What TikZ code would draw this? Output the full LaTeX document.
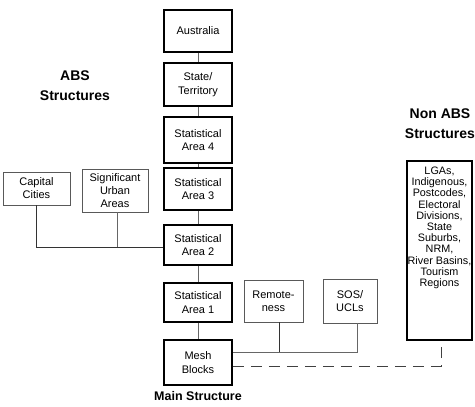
\documentclass[tikz,border=0pt]{standalone}
\usepackage{fontspec}
\setmainfont{Liberation Sans}
\begin{document}
\begin{tikzpicture}[x=1pt,y=-1pt,
  mainbox/.style={draw=black,line width=1.6pt,fill=white,align=center,
    font=\fontsize{11}{13.5}\selectfont,inner sep=0pt,minimum width=68pt},
  sidebox/.style={draw=black!65,line width=0.9pt,fill=white,align=center,
    font=\fontsize{11}{13}\selectfont,inner sep=0pt},
  nonabs/.style={draw=black,line width=1.6pt,fill=white,inner sep=0pt,
    minimum width=65pt,minimum height=179pt},
  nonabstext/.style={align=center,font=\fontsize{10.8}{11.2}\selectfont,inner sep=0pt},
  link/.style={draw=black!60,line width=1pt},
  dlink/.style={draw=black!75,line width=1pt,dash pattern=on 11pt off 7pt},
  head/.style={font=\bfseries\fontsize{14}{20}\selectfont,align=center},
  subhead/.style={font=\bfseries\fontsize{12.5}{15}\selectfont}]
\useasboundingbox (0,0) rectangle (475,407);
% main column
\node[mainbox,minimum height=42pt] (aus) at (198,31) {Australia};
\node[mainbox,minimum height=43pt] (ste) at (198,84.5) {State/\\Territory};
\node[mainbox,minimum height=46pt] (sa4) at (198,140) {Statistical\\Area 4};
\node[mainbox,minimum height=42pt] (sa3) at (198,189) {Statistical\\Area 3};
\node[mainbox,minimum height=40pt] (sa2) at (198,245) {Statistical\\Area 2};
\node[mainbox,minimum height=39pt] (sa1) at (198,302.5) {Statistical\\Area 1};
\node[mainbox,minimum height=45pt] (mesh) at (198,362.5) {Mesh\\Blocks};
\node[subhead] (mainlab) at (198,396) {Main Structure};
% side boxes
\node[sidebox,minimum width=67pt,minimum height=33pt] (cap) at (36.5,188.5) {Capital\\Cities};
\node[sidebox,minimum width=66pt,minimum height=43pt] (sua) at (115,190.5) {Significant\\Urban\\Areas};
\node[sidebox,minimum width=59pt,minimum height=42pt] (rem) at (273.5,301) {Remote-\\ness};
\node[sidebox,minimum width=54pt,minimum height=44pt] (sos) at (350,301) {SOS/\\UCLs};
% non ABS
\node[nonabs] (non) at (439.5,250.5) {};
\node[nonabstext,anchor=north] (nontext) at ([yshift=-6.5pt]non.north) {LGAs,\\Indigenous,\\Postcodes,\\Electoral\\Divisions,\\State\\Suburbs,\\NRM,\\River Basins,\\Tourism\\Regions};
% headings
\node[head] (abs) at (75,86) {ABS\\Structures};
\node[head] (nabs) at (440,124) {Non ABS\\Structures};
% main connectors
\draw[link] (aus) -- (ste);
\draw[link] (ste) -- (sa4);
\draw[link] (sa4) -- (sa3);
\draw[link] (sa3) -- (sa2);
\draw[link] (sa2) -- (sa1);
\draw[link] (sa1) -- (mesh);
% side connectors
\coordinate (capj) at (36,247);
\draw[link,draw=black!80] (cap.south -| capj) -- (capj) -- (capj -| sa2.west);
\draw[link] ([xshift=2pt]sua.south) -- ([xshift=2pt]sua.south |- capj);
\coordinate (meshj) at (357,352);
\draw[link] (mesh.east |- meshj) -- (meshj) -- (meshj |- sos.south);
\draw[link,draw=black!80] ([xshift=5.5pt]rem.south) -- ([xshift=5.5pt]rem.south |- meshj);
\coordinate (dj) at (441,366);
\draw[dlink] (mesh.east |- dj) -- (dj) -- (dj |- non.south);
\end{tikzpicture}
\end{document}
